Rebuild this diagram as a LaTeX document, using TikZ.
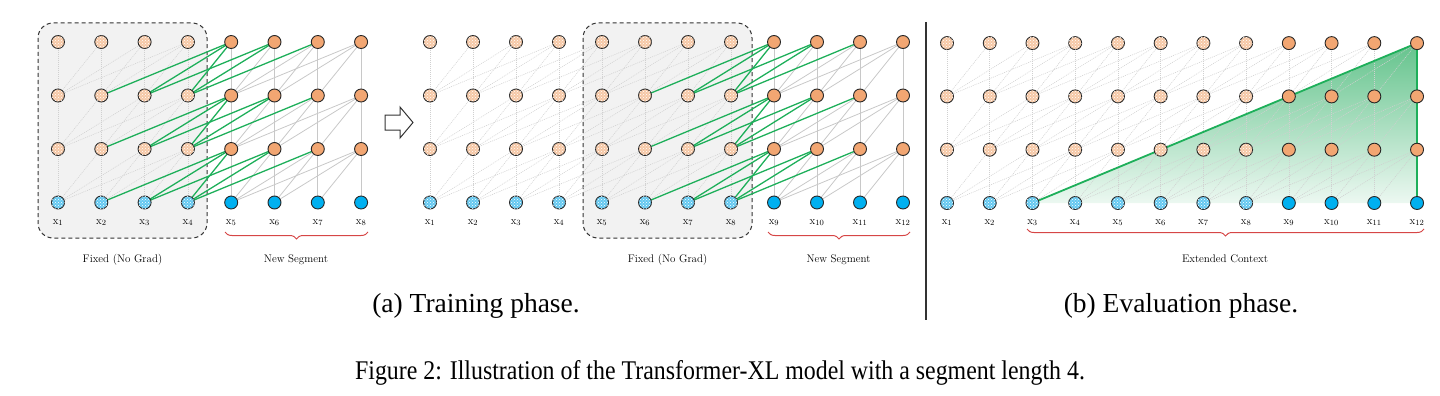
\documentclass[tikz,border=0pt]{standalone}
\usepackage{fontspec}
\newfontfamily\capfont{Liberation Serif}
\usetikzlibrary{patterns,decorations.pathreplacing}
\pgfdeclarelayer{back}
\pgfdeclarelayer{edges}
\pgfsetlayers{back,edges,main}
\definecolor{peach}{RGB}{246,200,166}
\definecolor{orng}{RGB}{242,166,114}
\definecolor{skyb}{RGB}{0,176,240}
\definecolor{lskyb}{RGB}{100,200,240}
\definecolor{grn}{RGB}{30,175,90}
\definecolor{gtop}{RGB}{100,195,140}
\definecolor{gbot}{RGB}{236,248,241}
\definecolor{bred}{RGB}{214,70,70}
\definecolor{boxgray}{RGB}{242,242,242}
\definecolor{edgegray}{RGB}{200,200,200}
\definecolor{dotgray}{RGB}{208,208,208}
\tikzset{
  nd/.style={circle, draw=black!85, line width=0.9pt, minimum size=13pt, inner sep=0pt},
  oldh/.style={nd, fill=peach, postaction={pattern=crosshatch dots, pattern color=white}},
  newh/.style={nd, fill=orng},
  oldin/.style={nd, fill=lskyb, postaction={pattern=crosshatch dots, pattern color=white}},
  newin/.style={nd, fill=skyb},
  olde/.style={dotgray, line width=0.55pt, dash pattern=on 1pt off 1pt},
  newe/.style={edgegray, line width=0.8pt},
  grne/.style={grn, line width=1.3pt},
  xlbl/.style={anchor=base, font=\fontsize{11}{13}\selectfont},
  smlbl/.style={anchor=base, font=\fontsize{11}{13}\selectfont},
  caplbl/.style={anchor=base, font=\capfont\fontsize{27.5}{32}\selectfont},
  figlbl/.style={anchor=base, font=\capfont\fontsize{27}{32}\selectfont},
  fixbox/.style={rounded corners=15pt, fill=boxgray, draw=black!80, line width=1pt, dash pattern=on 4pt off 3pt},
  brc/.style={bred, line width=1pt, decorate, decoration={brace, amplitude=7pt, mirror}},
}
\begin{document}
\begin{tikzpicture}[x=1pt,y=-1pt]
\useasboundingbox (0,0) rectangle (1440,396);

% ---------------- Panel A (training, segment 1) ----------------
\foreach \i in {1,...,8}{
  \pgfmathsetmacro{\xx}{58+(\i-1)*43.3}
  \foreach \r in {0,1,2,3}{
    \pgfmathsetmacro{\yy}{202.5-\r*53.5}
    \ifnum\i<5
      \ifnum\r=0 \node[oldin] (A-\i-\r) at (\xx,\yy) {};
      \else \node[oldh] (A-\i-\r) at (\xx,\yy) {}; \fi
    \else
      \ifnum\r=0 \node[newin] (A-\i-\r) at (\xx,\yy) {};
      \else \node[newh] (A-\i-\r) at (\xx,\yy) {}; \fi
    \fi
  }
  \node[xlbl] (A-l-\i) at (\xx,224) {$\mathrm{x}_{\i}$};
}
\begin{pgfonlayer}{edges}
\foreach \r in {1,2,3}{
  \pgfmathtruncatemacro{\rp}{\r-1}
  \foreach \i in {1,...,8}{
    \pgfmathtruncatemacro{\jmin}{max(1,\i-3)}
    \foreach \j in {\jmin,...,\i}{
      \ifnum\i<5 \draw[olde] (A-\i-\r.center) -- (A-\j-\rp.center);
      \else \ifnum\j>4 \draw[newe] (A-\i-\r.center) -- (A-\j-\rp.center); \fi\fi
    }}}
\foreach \r in {1,2,3}{
  \pgfmathtruncatemacro{\rp}{\r-1}
  \foreach \i in {5,...,8}{
    \pgfmathtruncatemacro{\jmin}{\i-3}
    \foreach \j in {\jmin,...,\i}{
      \ifnum\j<5 \draw[grne] (A-\i-\r.center) -- (A-\j-\rp.center); \fi
    }}}
\end{pgfonlayer}
\begin{pgfonlayer}{back}
\draw[fixbox] (38,23) rectangle (207,238);
\end{pgfonlayer}
\draw[brc] (225,232) -- (368,232);
\node[smlbl] (A-fix) at (122.5,262) {Fixed (No Grad)};
\node[smlbl] (A-new) at (296,262) {New Segment};

% arrow
\draw[black!80, line width=1pt, fill=white] (385,115) -- (400,115) -- (400,107) -- (413,122.5) -- (400,138) -- (400,130) -- (385,130) -- cycle;

% ---------------- Panel B (training, segment 2) ----------------
\foreach \i in {1,...,12}{
  \pgfmathsetmacro{\xx}{430+(\i-1)*43.0}
  \foreach \r in {0,1,2,3}{
    \pgfmathsetmacro{\yy}{202.5-\r*53.5}
    \ifnum\i<9
      \ifnum\r=0 \node[oldin] (B-\i-\r) at (\xx,\yy) {};
      \else \node[oldh] (B-\i-\r) at (\xx,\yy) {}; \fi
    \else
      \ifnum\r=0 \node[newin] (B-\i-\r) at (\xx,\yy) {};
      \else \node[newh] (B-\i-\r) at (\xx,\yy) {}; \fi
    \fi
  }
  \node[xlbl] (B-l-\i) at (\xx,224) {$\mathrm{x}_{\i}$};
}
\begin{pgfonlayer}{edges}
\foreach \r in {1,2,3}{
  \pgfmathtruncatemacro{\rp}{\r-1}
  \foreach \i in {1,...,12}{
    \pgfmathtruncatemacro{\jmin}{max(1,\i-3)}
    \foreach \j in {\jmin,...,\i}{
      \ifnum\i<9 \draw[olde] (B-\i-\r.center) -- (B-\j-\rp.center);
      \else \ifnum\j>8 \draw[newe] (B-\i-\r.center) -- (B-\j-\rp.center); \fi\fi
    }}}
\foreach \r in {1,2,3}{
  \pgfmathtruncatemacro{\rp}{\r-1}
  \foreach \i in {9,...,12}{
    \pgfmathtruncatemacro{\jmin}{\i-3}
    \foreach \j in {\jmin,...,\i}{
      \ifnum\j<9 \draw[grne] (B-\i-\r.center) -- (B-\j-\rp.center); \fi
    }}}
\end{pgfonlayer}
\begin{pgfonlayer}{back}
\draw[fixbox] (583,23) rectangle (752,238);
\end{pgfonlayer}
\draw[brc] (768,232) -- (910,232);
\node[smlbl] (B-fix) at (667.5,262) {Fixed (No Grad)};
\node[smlbl] (B-new) at (838.5,262) {New Segment};

% separator
\draw[black!80, line width=1.2pt] (926,22) -- (926,320);

% ---------------- Panel C (evaluation) ----------------
\foreach \i in {1,...,12}{
  \pgfmathsetmacro{\xx}{947+(\i-1)*42.73}
  \foreach \r in {0,1,2,3}{
    \pgfmathsetmacro{\yy}{203-\r*53.3}
    \ifnum\i<9
      \ifnum\r=0 \node[oldin] (C-\i-\r) at (\xx,\yy) {};
      \else \node[oldh] (C-\i-\r) at (\xx,\yy) {}; \fi
    \else
      \ifnum\r=0 \node[newin] (C-\i-\r) at (\xx,\yy) {};
      \else \node[newh] (C-\i-\r) at (\xx,\yy) {}; \fi
    \fi
  }
  \node[xlbl] (C-l-\i) at (\xx,224) {$\mathrm{x}_{\i}$};
}
\begin{pgfonlayer}{edges}
\foreach \r in {1,2,3}{
  \pgfmathtruncatemacro{\rp}{\r-1}
  \foreach \i in {1,...,12}{
    \pgfmathtruncatemacro{\jmin}{max(1,\i-3)}
    \foreach \j in {\jmin,...,\i}{
      \draw[olde] (C-\i-\r.center) -- (C-\j-\rp.center);
    }}}
\end{pgfonlayer}
\begin{pgfonlayer}{back}
\shade[top color=gtop, bottom color=gbot] (C-3-0.center) -- (C-12-3.center) -- (C-12-0.center) -- cycle;
\end{pgfonlayer}
\begin{pgfonlayer}{edges}
\draw[grn, line width=1.8pt, line join=round] (C-3-0.center) -- (C-12-3.center) -- (C-12-0.center);
\end{pgfonlayer}
\draw[brc] (1027,229) -- (1424,229);
\node[smlbl] (C-ext) at (1225,262) {Extended Context};

% captions
\node[caplbl] (capA) at (476,312) {(a) Training phase.};
\node[caplbl] (capB) at (1181,312) {(b) Evaluation phase.};
\node[figlbl] (capF) at (720,379) {\scalebox{0.884}[1]{Figure 2: Illustration of the Transformer-XL model with a segment length 4.}};
\end{tikzpicture}
\end{document}
